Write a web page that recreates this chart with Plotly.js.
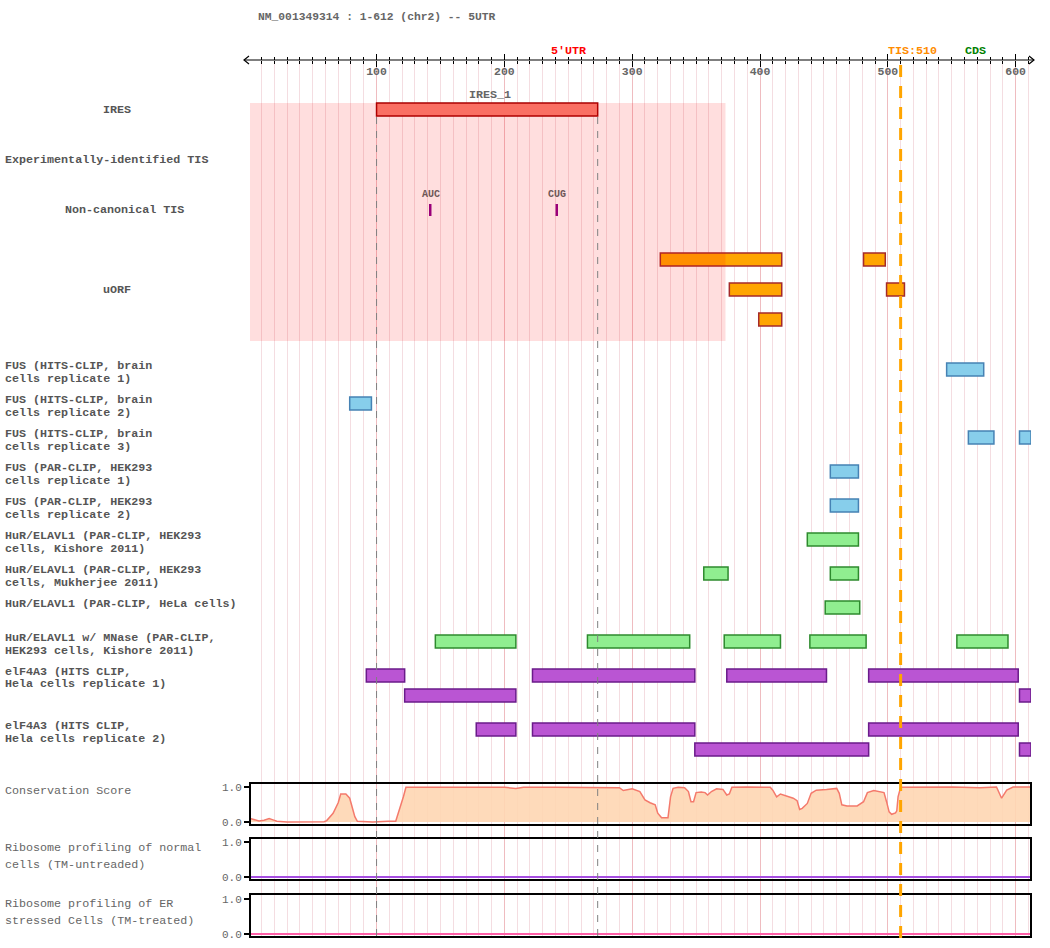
<!DOCTYPE html>
<html><head><meta charset="utf-8">
<script src="https://cdn.plot.ly/plotly-3.0.1.min.js"></script>
<style>body{margin:0;padding:0;background:#fff}#chart{width:1050px;height:948px}</style>
</head><body><div id="chart"></div>
<script>
// ---------------- DATA ----------------
const chartTitle = 'NM_001349314 : 1-612 (chr2) -- 5UTR';
const seqRange = [1, 612];
const tisPos = 510;
const regionLabels = ["5'UTR", 'TIS:510', 'CDS'];
const regionLabelPos = [250, 519.6, 568.7];

const iresStarts = [100];
const iresEnds = [273];
const iresNames = ['IRES_1'];
const iresRegion = [1, 373];

const ncTisPos = [142, 241];
const ncTisCodons = ['AUC', 'CUG'];

const uorfStarts = [322, 481, 376, 499, 399];
const uorfEnds   = [417, 498, 417, 513, 417];
const uorfRows   = [0, 0, 1, 1, 2];

const fusBrain1Starts = [546], fusBrain1Ends = [575];
const fusBrain2Starts = [79],  fusBrain2Ends = [96];
const fusBrain3Starts = [563, 603], fusBrain3Ends = [583, 612];
const fusHek1Starts = [455], fusHek1Ends = [477];
const fusHek2Starts = [455], fusHek2Ends = [477];

const hurKishoreStarts = [437], hurKishoreEnds = [477];
const hurMukherjeeStarts = [356, 455], hurMukherjeeEnds = [375, 477];
const hurHelaStarts = [451], hurHelaEnds = [478];
const hurMnaseStarts = [146, 265, 372, 439, 554];
const hurMnaseEnds   = [209, 345, 416, 483, 594];

const eif1Starts = [92, 222, 374, 485, 122, 603];
const eif1Ends   = [122, 349, 452, 602, 209, 612];
const eif1Rows   = [0, 0, 0, 0, 1, 1];
const eif2Starts = [178, 222, 485, 349, 603];
const eif2Ends   = [209, 349, 602, 485, 612];
const eif2Rows   = [0, 0, 0, 1, 1];

const consX = [1,2,8,12,16,19,22,30,46,59,61,66,70,72,76,79,83,85,97,101,105,109,115,118,121,123,140,160,180,200,209,215,240,260,280,290,293,298,300,306,310,314,318,320,323,328,330,332,336,341,344,346,348,350,354,357,359,362,366,371,374,376,378,390,408,410,413,416,421,426,429,431,433,437,440,444,452,460,462,464,468,476,481,484,489,493,497,499,501,503,506,507,508,510,525,551,572,585,589,593,598,612];
const consY = [0.1,0.09,0.03,0.05,0.1,0.06,0.02,0.0,0.0,0.01,0.04,0.25,0.55,0.8,0.8,0.68,0.15,0.02,0.0,0.01,0.03,0.02,0.02,0.34,0.72,0.99,0.99,0.99,0.99,0.99,0.96,0.99,0.99,0.99,0.99,0.98,0.9,0.93,0.95,0.87,0.63,0.55,0.49,0.25,0.12,0.12,0.72,0.96,0.99,0.98,0.87,0.58,0.58,0.84,0.86,0.84,0.77,0.87,0.95,0.93,0.77,0.8,0.99,1.0,0.99,0.91,0.72,0.8,0.74,0.68,0.61,0.36,0.39,0.53,0.82,0.91,0.93,0.96,0.82,0.49,0.46,0.46,0.58,0.84,0.9,0.87,0.84,0.58,0.29,0.22,0.26,0.32,0.72,0.99,1.0,1.0,0.98,1.0,0.68,0.91,1.0,1.0];

const riboNormalX = [1, 612], riboNormalY = [0, 0];
const riboStressX = [1, 612], riboStressY = [0, 0];

const trackLabels = [
  ['IRES'],
  ['Experimentally-identified TIS'],
  ['Non-canonical TIS'],
  ['uORF'],
  ['FUS (HITS-CLIP, brain', 'cells replicate 1)'],
  ['FUS (HITS-CLIP, brain', 'cells replicate 2)'],
  ['FUS (HITS-CLIP, brain', 'cells replicate 3)'],
  ['FUS (PAR-CLIP, HEK293', 'cells replicate 1)'],
  ['FUS (PAR-CLIP, HEK293', 'cells replicate 2)'],
  ['HuR/ELAVL1 (PAR-CLIP, HEK293', 'cells, Kishore 2011)'],
  ['HuR/ELAVL1 (PAR-CLIP, HEK293', 'cells, Mukherjee 2011)'],
  ['HuR/ELAVL1 (PAR-CLIP, HeLa cells)'],
  ['HuR/ELAVL1 w/ MNase (PAR-CLIP,', 'HEK293 cells, Kishore 2011)'],
  ['elF4A3 (HITS CLIP,', 'Hela cells replicate 1)'],
  ['elF4A3 (HITS CLIP,', 'Hela cells replicate 2)'],
  ['Conservation Score'],
  ['Ribosome profiling of normal', 'cells (TM-untreaded)'],
  ['Ribosome profiling of ER', 'stressed Cells (TM-treated)']
];

// ---------------- LAYOUT GEOMETRY (pixels) ----------------
const W = 1050, H = 948, ML = 250, MR = 19;
const PW = W - ML - MR;
const plotTop = 64, plotBot = 938;
const axisY = 60;
const py = p => (H - p) / H;          // pixel row -> paper y
const pxp = p => (p - ML) / PW;       // pixel col -> paper x
const barH = 13;
const rowIres = 109.5;
const rowNcTis = 210;
const rowUorf = [259.5, 289.5, 319.5];
const rowFus = [369.5, 403.5, 437.5, 471.5, 505.5];
const rowHur = [539.5, 573.5, 607.5, 641.5];
const rowEif1 = [675.5, 695.5];
const rowEif2 = [729.5, 749.5];
// label placement: [anchor, xpx, ypx of first line, line spacing, bold]
const labelPlace = [
  ['center',117,110,0,true],['left',3,160,0,true],['center',124.5,210,0,true],['center',117,290,0,true],
  ['left',3,366,12.5,true],['left',3,400,12.5,true],['left',3,434,12.5,true],['left',3,468,12.5,true],
  ['left',3,502,12.5,true],['left',3,536,12.5,true],['left',3,570,12.5,true],['left',3,604,0,true],
  ['left',3,638,12.5,true],['left',3,672,12.5,true],['left',3,726,12.5,true],
  ['left',3,791,0,false],['left',3,848,16.5,false],['left',3,904,16.5,false]
];
const panelBoxes = [[783, 825], [838, 880], [894, 937]];
const panelRanges = [[-0.086, 1.114], [-0.086, 1.114], [-0.086, 1.143]];

const MONO = 'Liberation Mono, DejaVu Sans Mono, monospace';

// ---------------- TRACES ----------------
const traces = [];
function bars(starts, ends, ys, fill, border) {
  traces.push({
    type: 'bar', orientation: 'h', base: starts,
    x: starts.map((s, i) => ends[i] - s), y: ys, width: barH,
    marker: { color: fill, line: { color: border, width: 1.5 } },
    xaxis: 'x', yaxis: 'y', hoverinfo: 'skip', showlegend: false
  });
}
bars(iresStarts, iresEnds, iresStarts.map(() => rowIres), '#fa8072', '#a40000');
bars(uorfStarts, uorfEnds, uorfRows.map(r => rowUorf[r]), '#ffa500', '#a52a2a');
const blue = '#87ceeb', blueB = '#4682b4';
bars(fusBrain1Starts, fusBrain1Ends, fusBrain1Starts.map(() => rowFus[0]), blue, blueB);
bars(fusBrain2Starts, fusBrain2Ends, fusBrain2Starts.map(() => rowFus[1]), blue, blueB);
bars(fusBrain3Starts, fusBrain3Ends, fusBrain3Starts.map(() => rowFus[2]), blue, blueB);
bars(fusHek1Starts, fusHek1Ends, fusHek1Starts.map(() => rowFus[3]), blue, blueB);
bars(fusHek2Starts, fusHek2Ends, fusHek2Starts.map(() => rowFus[4]), blue, blueB);
const green = '#90ee90', greenB = '#2e8b2e';
bars(hurKishoreStarts, hurKishoreEnds, hurKishoreStarts.map(() => rowHur[0]), green, greenB);
bars(hurMukherjeeStarts, hurMukherjeeEnds, hurMukherjeeStarts.map(() => rowHur[1]), green, greenB);
bars(hurHelaStarts, hurHelaEnds, hurHelaStarts.map(() => rowHur[2]), green, greenB);
bars(hurMnaseStarts, hurMnaseEnds, hurMnaseStarts.map(() => rowHur[3]), green, greenB);
const purple = '#ba55d3', purpleB = '#6b1b8a';
bars(eif1Starts, eif1Ends, eif1Rows.map(r => rowEif1[r]), purple, purpleB);
bars(eif2Starts, eif2Ends, eif2Rows.map(r => rowEif2[r]), purple, purpleB);

const ncX = [], ncY = [];
ncTisPos.forEach(p => { ncX.push(p, p, null); ncY.push(rowNcTis - 6, rowNcTis + 6, null); });
traces.push({ type: 'scatter', mode: 'lines', x: ncX, y: ncY, line: { color: '#8b008b', width: 2.5 },
  xaxis: 'x', yaxis: 'y', hoverinfo: 'skip', showlegend: false });

traces.push({ type: 'scatter', mode: 'lines', x: consX, y: consY, fill: 'tozeroy',
  fillcolor: 'rgba(254,214,178,0.9)', line: { color: '#f47a6c', width: 1.5 },
  xaxis: 'x', yaxis: 'y2', hoverinfo: 'skip', showlegend: false });
traces.push({ type: 'scatter', mode: 'lines', x: riboNormalX, y: riboNormalY,
  line: { color: '#a64ee0', width: 2 }, xaxis: 'x', yaxis: 'y3', hoverinfo: 'skip', showlegend: false });
traces.push({ type: 'scatter', mode: 'lines', x: riboStressX, y: riboStressY,
  line: { color: '#ff5fa8', width: 2 }, xaxis: 'x', yaxis: 'y4', hoverinfo: 'skip', showlegend: false });
['x2', 'x3', 'x4'].forEach(ax => traces.push({ type: 'scatter', x: [seqRange[0]], y: [null], xaxis: ax, yaxis: 'y',
  hoverinfo: 'skip', showlegend: false }));

// ---------------- SHAPES ----------------
const shapes = [];
['y2', 'y3', 'y4'].forEach(ax => shapes.push({ type: 'rect', xref: 'paper', x0: 0, x1: 1,
  yref: ax + ' domain', y0: 0, y1: 1, line: { color: '#000', width: 2 }, layer: 'above' }));
shapes.push({ type: 'rect', xref: 'x', x0: iresRegion[0], x1: iresRegion[1], yref: 'y', y0: 103, y1: 341,
  fillcolor: 'rgba(255,0,0,0.13)', line: { width: 0 }, layer: 'above' });
[iresStarts[0], iresEnds[0]].forEach(p => shapes.push({ type: 'line', xref: 'x', x0: p, x1: p, yref: 'y',
  y0: rowIres + barH / 2 + 1, y1: plotBot, line: { color: '#808080', width: 1, dash: '7px,7px' }, layer: 'above' }));
shapes.push({ type: 'line', xref: 'x', x0: tisPos, x1: tisPos, yref: 'paper', y0: py(plotBot), y1: py(axisY),
  line: { color: '#ffa500', width: 3, dash: '12px,9px' }, layer: 'above' });
shapes.push({ type: 'line', xref: 'paper', x0: pxp(244), x1: pxp(1034), yref: 'paper', y0: py(axisY), y1: py(axisY),
  line: { color: '#000', width: 1.2 } });
shapes.push({ type: 'path', xref: 'paper', yref: 'paper', xsizemode: 'pixel', ysizemode: 'pixel',
  xanchor: pxp(244), yanchor: py(axisY), path: 'M 5 4 L 0 0 L 5 -4', line: { color: '#000', width: 1.2 } });
shapes.push({ type: 'path', xref: 'paper', yref: 'paper', xsizemode: 'pixel', ysizemode: 'pixel',
  xanchor: pxp(1034), yanchor: py(axisY), path: 'M -5 4 L 0 0 L -5 -4', line: { color: '#000', width: 1.2 } });

// ---------------- ANNOTATIONS ----------------
const ann = [];
ann.push({ text: chartTitle, xref: 'paper', x: pxp(256), xanchor: 'left', yref: 'paper', y: py(17), yanchor: 'middle',
  showarrow: false, font: { family: MONO, size: 11.3, color: '#666', weight: 'bold' } });
const regionColors = ['#ff0000', '#ff8c00', '#008000'];
regionLabels.forEach((t, i) => ann.push({ text: t, xref: 'x', x: regionLabelPos[i], yref: 'paper', y: py(51),
  yanchor: 'middle', showarrow: false, font: { family: MONO, size: 11.7, color: regionColors[i], weight: 'bold' } }));
iresNames.forEach((t, i) => ann.push({ text: t, xref: 'x', x: (iresStarts[i] + iresEnds[i]) / 2, xshift: 2.5,
  yref: 'y', y: 95.5, yanchor: 'middle', showarrow: false, font: { family: MONO, size: 11.7, color: '#666', weight: 'bold' } }));
ncTisCodons.forEach((t, i) => ann.push({ text: t, xref: 'x', x: ncTisPos[i], xshift: 0.5, yref: 'y', y: 194.5,
  yanchor: 'middle', showarrow: false, font: { family: MONO, size: 10, color: '#6e5656', weight: 'bold' } }));
trackLabels.forEach((lines, i) => {
  const [anc, xp, y0, sp, bold] = labelPlace[i];
  lines.forEach((ln, j) => ann.push({ text: ln, xref: 'paper', x: pxp(xp), xanchor: anc, yref: 'paper',
    y: py(y0 + j * sp), yanchor: 'middle', showarrow: false,
    font: { family: MONO, size: 11.7, color: bold ? '#555' : '#666', weight: bold ? 'bold' : 'normal' } }));
});

// ---------------- AXES ----------------
const gridMinor = '#f4dde1', gridMajor = '#efbcc0';
const rulerFont = { family: MONO, size: 11.5, color: '#666', weight: 'bold' };
function panelAxis(k) {
  const [b, t] = panelBoxes[k];
  return { domain: [py(t), py(b)], range: panelRanges[k], anchor: 'x', tickmode: 'array', tickvals: [0, 1],
    ticktext: ['0.0', '1.0'], ticks: 'outside', ticklen: 5, tickcolor: '#000', tickwidth: 1.5,
    tickfont: { family: MONO, size: 11, color: '#666' }, showgrid: false, zeroline: false, showline: false, fixedrange: true };
}
function rulerAxis(side, labels, withTicks) {
  return { overlaying: 'x', anchor: 'free', position: py(axisY), side: side, range: seqRange,
    tickmode: 'linear', tick0: 0, dtick: 100, ticks: withTicks ? 'outside' : '', ticklen: 6, tickwidth: 1, tickcolor: '#000',
    minor: withTicks ? { tickmode: 'linear', tick0: 0, dtick: 10, ticks: 'outside', ticklen: 3, tickwidth: 1, tickcolor: '#000', showgrid: false } : { showgrid: false },
    showgrid: false, zeroline: false, showline: false, showticklabels: labels, tickfont: rulerFont,
    ticklabelstandoff: labels ? 2 : 0, fixedrange: true };
}
const layout = {
  width: W, height: H, margin: { l: ML, r: MR, t: 0, b: 0 },
  paper_bgcolor: '#fff', plot_bgcolor: 'rgba(0,0,0,0)', showlegend: false, barmode: 'overlay',
  xaxis: { domain: [0, 1], range: seqRange, anchor: 'y', tickmode: 'linear', tick0: 0, dtick: 100,
    showgrid: true, gridcolor: gridMajor, gridwidth: 1, showticklabels: false, ticks: '', zeroline: false, showline: false,
    minor: { tickmode: 'linear', tick0: 0, dtick: 10, showgrid: true, gridcolor: gridMinor, gridwidth: 1 }, fixedrange: true },
  xaxis2: rulerAxis('bottom', true, false),
  xaxis3: rulerAxis('top', false, true),
  xaxis4: rulerAxis('bottom', false, true),
  yaxis: { domain: [py(plotBot), py(plotTop)], range: [plotBot, plotTop], anchor: 'x', showgrid: false,
    zeroline: false, showticklabels: false, ticks: '', showline: false, fixedrange: true },
  yaxis2: panelAxis(0), yaxis3: panelAxis(1), yaxis4: panelAxis(2),
  shapes: shapes, annotations: ann
};
Plotly.newPlot('chart', traces, layout, { staticPlot: true, displayModeBar: false });
</script></body></html>
